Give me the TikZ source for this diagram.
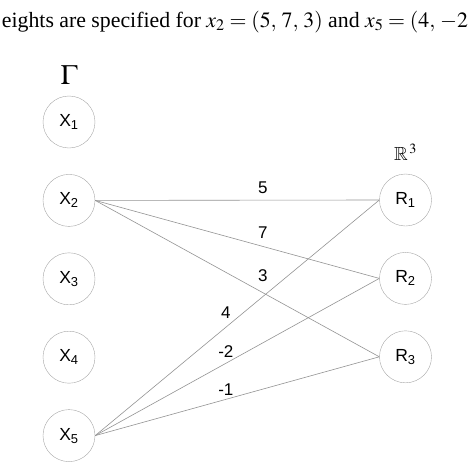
\documentclass[tikz,border=0pt]{standalone}
\usepackage{mathptmx}
\usepackage{amssymb}
\usepackage{fontspec}
\setmainfont{Liberation Serif}
\newfontfamily\nodefont{Liberation Sans}
\usetikzlibrary{positioning}
\begin{document}
\begin{tikzpicture}[x=1pt, y=-1pt, thick,
    inp/.style={draw=gray!70, circle, thin, minimum size=52pt, inner sep=0pt, font=\nodefont\fontsize{17.5}{17.5}\selectfont},
    wline/.style={draw=gray!85, line width=0.6pt},
    wlabel/.style={font=\nodefont\fontsize{17}{17}\selectfont, inner sep=1pt}]
        \useasboundingbox (0,0) rectangle (474,474);
        \clip (0,0) rectangle (474,474);
        % Caption
        \node[anchor=base west, inner sep=0pt, font=\fontsize{21.8}{26}\selectfont] (caption) at (1.5,27)
            {eights are specified for $x_2=(5,\,7,\,3)$ and $x_5=(4,\,-2$};
        % Nodes
        \node[inp] (x1) at (69,122) {X\textsubscript{1}};
        \node[inp, below=26pt of x1] (x2) {X\textsubscript{2}};
        \node[inp, below=26pt of x2] (x3) {X\textsubscript{3}};
        \node[inp, below=26pt of x3] (x4) {X\textsubscript{4}};
        \node[inp, below=26pt of x4] (x5) {X\textsubscript{5}};
        \node[inp] (r1) at (405.5,200) {R\textsubscript{1}};
        \node[inp, below=26pt of r1] (r2) {R\textsubscript{2}};
        \node[inp, below=26pt of r2] (r3) {R\textsubscript{3}};
        \node[above=8pt of x1, font=\fontsize{28}{28}\selectfont] (gamma) {$\Gamma$};
        \node[above=10pt of r1, font=\fontsize{19}{19}\selectfont] (space) {$\mathbb{R}^{\,3}$};

        % Arrows
        \draw[wline] (x2.east) -- node[wlabel, pos=.59, above=5pt] {5} (r1.west);
        \draw[wline] (x2.east) -- node[wlabel, pos=.59, above=7pt] {7} (r2.west);
        \draw[wline] (x2.east) -- node[wlabel, pos=.59, above=10pt] {3} (r3.west);
        \draw[wline] (x5.east) -- node[wlabel, pos=.46, above=7pt] {4} (r1.west);
        \draw[wline] (x5.east) -- node[wlabel, pos=.46, above=4pt] {-2} (r2.west);
        \draw[wline] (x5.east) -- node[wlabel, pos=.46, above=3pt] {-1} (r3.west);
    \end{tikzpicture}
\end{document}
